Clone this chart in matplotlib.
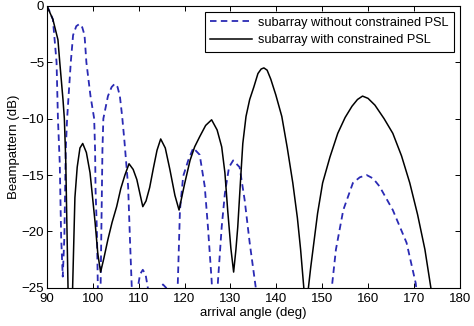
import numpy as np
import matplotlib
matplotlib.use('Agg')
import matplotlib.pyplot as plt

# beampattern (deg, dB); values below -25 fall outside the axes
psl_angle = [90, 91.3, 92.4, 92.8, 93.5, 93.8, 94.1, 94.6, 95.1, 95.6, 96.1, 96.6, 97.2, 97.8,
             98.6, 99.4, 100.5, 101.1, 101.7, 102.4, 103.3, 104.2, 105.2, 106.1, 107, 107.9,
             108.8, 109.6, 110.3, 110.9, 111.6, 112.4, 113.2, 114, 114.8, 115.8, 116.8, 117.9,
             118.8, 120, 121.2, 122.2, 123.3, 124.6, 125.9, 127.1, 128.1, 128.8, 129.4, 130.1,
             130.7, 131.2, 131.6, 132.2, 132.7, 133.4, 134.2, 135.1, 136, 136.7, 137.3, 138,
             138.8, 139.9, 141.2, 142.4, 143.6, 144.6, 145.3, 146, 146.5, 147, 147.5, 148, 149,
             150.1, 151.7, 153.4, 155, 156.5, 157.7, 158.8, 160, 161.5, 163.5, 165.4, 167.3,
             169.1, 170.8, 172.4, 173.7, 174.4]
psl_db = [0, -1.2, -3.0, -5.0, -8.3, -10, -13.7, -25, -33, -25, -17, -14.3, -12.6, -12.2,
          -13.0, -14.8, -19.2, -22, -23.6, -22.4, -20.7, -19.2, -17.8, -16.2, -15.0, -14.0,
          -14.5, -15.4, -16.7, -17.8, -17.3, -16.1, -14.4, -12.8, -11.8, -12.6, -14.5, -16.8,
          -18.1, -15.8, -13.7, -12.5, -11.6, -10.6, -10.1, -11.0, -12.5, -14.8, -18.1, -21.5,
          -23.6, -21.6, -19.6, -15.5, -12.2, -9.8, -8.3, -7.2, -6.0, -5.6, -5.5, -5.7,
          -6.5, -7.9, -9.8, -12.6, -15.7, -18.8, -21.6, -25, -33, -25, -23.2, -21.6, -18.4,
          -15.7, -13.4, -11.3, -9.9, -8.9, -8.3, -8.0, -8.2, -8.8, -10.0, -11.3, -13.3,
          -15.7, -18.5, -21.6, -25, -28]

free_angle = [90, 90.6, 91.3, 92.1, 92.4, 92.8, 93.1, 93.45, 93.8, 94.1, 94.4, 95.2, 95.7,
              96.4, 97.1, 97.7, 98.2, 98.6, 99.5, 100.3, 100.5, 100.6, 100.9, 101.1, 101.4,
              101.7, 102.1, 102.3, 103.3, 104.1, 104.8, 105.4, 105.9, 106.4, 106.9, 107.7,
              108.1, 108.5, 109, 109.8, 110.3, 110.9, 111.5, 112, 113, 114.5, 115.3, 116, 117,
              118.5, 119, 119.7, 120.8, 121.9, 123.3, 124.4, 125.1, 125.9, 126.6, 127.3, 128.1,
              128.8, 129.7, 130.6, 132, 133.1, 134.2, 135.5, 136.5, 151, 152.2, 153, 154.6,
              156.7, 158.2, 159.7, 161.1, 162.5, 165.4, 168.4, 170.4, 171]
free_db = [0, -0.5, -1.2, -5, -10, -14, -20.5, -24, -20.5, -12.8, -10, -5, -2.6,
           -1.8, -1.6, -1.9, -2.6, -5, -8, -10, -12.8, -16.3, -20, -25, -32,
           -25, -12.8, -10, -8, -7.2, -6.9, -7.2, -8, -9.8, -12, -16,
           -20.7, -25, -32, -25, -23.8, -23.4, -23.8, -25, -32, -25, -24.7, -25, -32,
           -25, -18.1, -15.1, -13.7, -12.6, -13.2, -16, -19.6, -24.3, -30, -24.3, -19.6,
           -16.6, -14.3, -13.7, -14.3, -17.2, -21, -24.9, -35, -35, -24.6, -21.6, -18.1,
           -15.7, -15.2, -15.0, -15.3, -16.0, -18.1, -21, -24.6, -27]

x_ticks = [90, 100, 110, 120, 130, 140, 150, 160, 170, 180]
y_ticks = [0, -5, -10, -15, -20, -25]

plt.rcParams['font.family'] = ['Liberation Sans', 'DejaVu Sans']

fig = plt.figure(figsize=(4.74, 3.26), dpi=100)
ax = fig.add_axes([0.099, 0.117, 0.871, 0.865])

ax.plot(free_angle, free_db, color='#2a2ab4', lw=1.3, linestyle=(0, (3.6, 2.4)),
        label='subarray without constrained PSL')
ax.plot(psl_angle, psl_db, color='black', lw=1.1,
        label='subarray with constrained PSL')

ax.set_xlim(90, 180)
ax.set_ylim(-25, 0)
ax.set_xticks(x_ticks)
ax.set_yticks(y_ticks)
ax.tick_params(direction='in', top=True, right=True, length=3.5, width=0.7,
               labelsize=9.5)
ax.tick_params(axis='x', pad=3.5)
ax.tick_params(axis='y', pad=2)
for s in ax.spines.values():
    s.set_linewidth(0.8)

ax.set_xlabel('arrival angle (deg)', fontsize=9.5, labelpad=2)
ax.set_ylabel('Beampattern (dB)', fontsize=9.5, labelpad=1)

leg = ax.legend(loc='upper right', fontsize=9.2, fancybox=False, framealpha=1,
                edgecolor='black', handlelength=3.3, borderaxespad=0.45,
                borderpad=0.4, labelspacing=0.45, handletextpad=0.5)
leg.get_frame().set_linewidth(0.8)

fig.savefig('out.png', dpi=100)
